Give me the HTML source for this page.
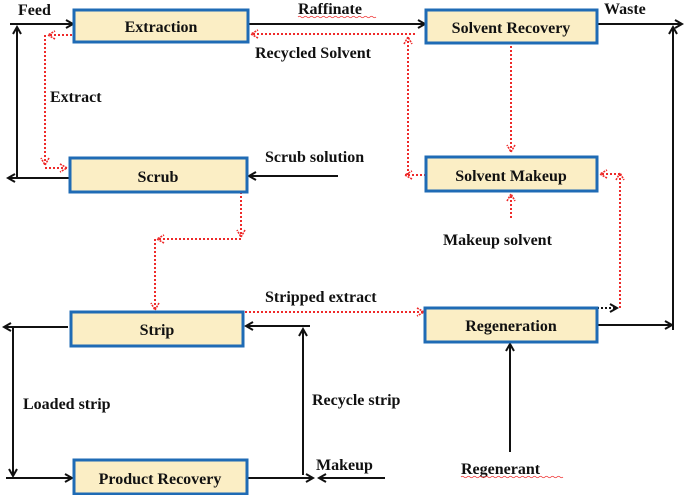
<!DOCTYPE html>
<html><head><style>
body{margin:0;background:#fff}
svg text{font-family:"Liberation Serif",serif;font-weight:bold;font-size:16px;fill:#111}
.box{fill:#fbeec5;stroke:#1f6bb5;stroke-width:3}
.k{stroke:#111;stroke-width:2;fill:none}
.r{stroke:#ee2a2a;stroke-width:2;fill:none;stroke-dasharray:2 2}
</style></head><body>
<svg width="685" height="495" viewBox="0 0 685 495" xmlns="http://www.w3.org/2000/svg">
<defs>
<marker id="a" markerWidth="10" markerHeight="10" refX="8" refY="5" orient="auto" markerUnits="userSpaceOnUse"><path d="M1,1 L8,5 L1,9" fill="none" stroke="#111" stroke-width="2"/></marker>
<marker id="b" markerWidth="10" markerHeight="10" refX="8" refY="5" orient="auto" markerUnits="userSpaceOnUse"><path d="M1,1 L8,5 L1,9" fill="none" stroke="#ee2a2a" stroke-width="1.6" stroke-dasharray="2 1"/></marker>
</defs>
<!-- black lines -->
<line class="k" x1="10" y1="24" x2="73" y2="24" marker-end="url(#a)"/>
<line class="k" x1="17" y1="178" x2="17" y2="27" marker-end="url(#a)"/>
<line class="k" x1="70" y1="178" x2="8" y2="178" marker-end="url(#a)"/>
<line class="k" x1="248" y1="24" x2="425" y2="24" marker-end="url(#a)"/>
<line class="k" x1="597" y1="24" x2="682" y2="24" marker-end="url(#a)"/>
<line class="k" x1="673" y1="330" x2="673" y2="27" marker-end="url(#a)"/>
<line class="k" x1="597" y1="325" x2="672" y2="325" marker-end="url(#a)"/>
<line class="k" x1="338" y1="176" x2="249" y2="176" marker-end="url(#a)"/>
<line class="k" x1="510" y1="452" x2="510" y2="344" marker-end="url(#a)"/>
<line class="k" x1="68" y1="327" x2="4" y2="327" marker-end="url(#a)"/>
<line class="k" x1="13" y1="327" x2="13" y2="476" marker-end="url(#a)"/>
<line class="k" x1="6" y1="478" x2="72" y2="478" marker-end="url(#a)"/>
<line class="k" x1="247" y1="478" x2="313" y2="478" marker-end="url(#a)"/>
<line class="k" x1="385" y1="478" x2="319" y2="478" marker-end="url(#a)"/>
<line class="k" x1="303" y1="475" x2="303" y2="329" marker-end="url(#a)"/>
<line class="k" x1="310" y1="326" x2="246" y2="326" marker-end="url(#a)"/>
<line class="k" x1="597" y1="308" x2="617" y2="308" stroke-dasharray="2 2" marker-end="url(#a)"/>
<!-- red dotted -->
<line class="r" x1="72" y1="35" x2="48" y2="35" marker-end="url(#b)"/>
<line class="r" x1="45" y1="35" x2="45" y2="165" marker-end="url(#b)"/>
<line class="r" x1="45" y1="168" x2="67" y2="168" marker-end="url(#b)"/>
<line class="r" x1="241" y1="192" x2="241" y2="237" marker-end="url(#b)"/>
<line class="r" x1="241" y1="239" x2="157" y2="239" marker-end="url(#b)"/>
<line class="r" x1="155" y1="239" x2="155" y2="310" marker-end="url(#b)"/>
<line class="r" x1="245" y1="312" x2="424" y2="312" marker-end="url(#b)"/>
<line class="r" x1="620" y1="308" x2="620" y2="173" marker-end="url(#b)"/>
<line class="r" x1="620" y1="174" x2="600" y2="174" marker-end="url(#b)"/>
<line class="r" x1="426" y1="175" x2="405" y2="175" marker-end="url(#b)"/>
<line class="r" x1="408" y1="175" x2="408" y2="37" marker-end="url(#b)"/>
<line class="r" x1="415" y1="34" x2="251" y2="34" marker-end="url(#b)"/>
<line class="r" x1="511" y1="46" x2="511" y2="152" marker-end="url(#b)"/>
<line class="r" x1="511" y1="218" x2="511" y2="194" marker-end="url(#b)"/>
<!-- boxes -->
<rect class="box" x="74" y="10" width="174" height="32"/>
<text x="161" y="32" text-anchor="middle">Extraction</text>
<rect class="box" x="426" y="10" width="171" height="33"/>
<text x="511" y="33" text-anchor="middle">Solvent Recovery</text>
<rect class="box" x="70" y="158" width="177" height="34"/>
<text x="158" y="182" text-anchor="middle">Scrub</text>
<rect class="box" x="426" y="157" width="171" height="34"/>
<text x="511" y="181" text-anchor="middle">Solvent Makeup</text>
<rect class="box" x="71" y="312" width="172" height="34"/>
<text x="157" y="335" text-anchor="middle">Strip</text>
<rect class="box" x="425" y="308" width="172" height="34"/>
<text x="511" y="331" text-anchor="middle">Regeneration</text>
<rect class="box" x="74" y="460" width="173" height="34"/>
<text x="160" y="484" text-anchor="middle">Product Recovery</text>
<!-- labels -->
<text x="18" y="15">Feed</text>
<text x="298" y="14">Raffinate</text>
<text x="604" y="14">Waste</text>
<text x="255" y="58">Recycled Solvent</text>
<text x="50" y="102">Extract</text>
<text x="265" y="162">Scrub solution</text>
<text x="443" y="245">Makeup solvent</text>
<text x="265" y="302">Stripped extract</text>
<text x="23" y="409">Loaded strip</text>
<text x="312" y="405">Recycle strip</text>
<text x="316" y="470">Makeup</text>
<text x="461" y="474">Regenerant</text>
<path d="M298,17 q1.5,-1.5 3,0 t3,0 t3,0 t3,0 t3,0 t3,0 t3,0 t3,0 t3,0 t3,0 t3,0 t3,0 t3,0 t3,0 t3,0 t3,0 t3,0 t3,0 t3,0 t3,0 t3,0 t3,0 t3,0 t3,0 t3,0 t3,0" stroke="#ee2a2a" stroke-width="0.8" fill="none"/>
<path d="M461,477 q1.5,-1.5 3,0 t3,0 t3,0 t3,0 t3,0 t3,0 t3,0 t3,0 t3,0 t3,0 t3,0 t3,0 t3,0 t3,0 t3,0 t3,0 t3,0 t3,0 t3,0 t3,0 t3,0 t3,0 t3,0 t3,0 t3,0 t3,0 t3,0 t3,0 t3,0 t3,0 t3,0 t3,0 t3,0 t3,0" stroke="#ee2a2a" stroke-width="0.8" fill="none"/>
</svg>
</body></html>
